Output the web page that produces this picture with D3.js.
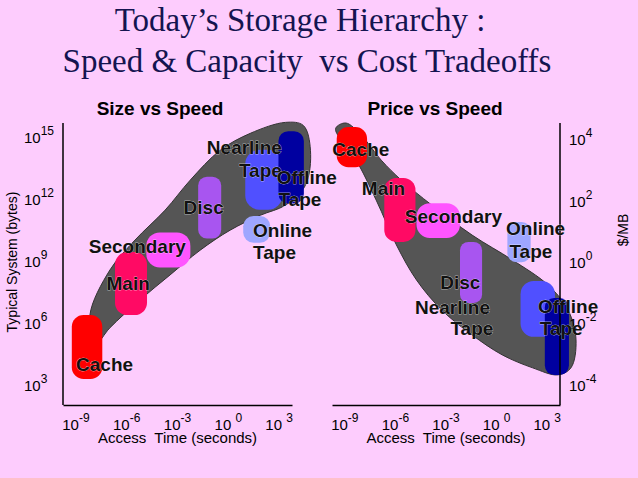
<!DOCTYPE html>
<html><head><meta charset="utf-8">
<script src="https://cdn.jsdelivr.net/npm/d3@7"></script>
<style>body{margin:0;background:#fdccfd}svg{display:block}</style>
</head><body>
<svg id="c" width="638" height="478"></svg>
<script>
// log10 access time ticks, shared by both panels
const timeTicks = [-9, -6, -3, 0, 3]
const sizeTicks = [15, 12, 9, 6, 3]
const priceTicks = [4, 2, 0, -2, -4]

// boxes: [name, t0, t1, v0, v1, colour]  (log10 units)
const sizeBoxes = [
  ["Cache", -9.3, -7.5, 6.3, 3.2, "#ff0000"],
  ["Main", -6.75, -4.86, 9.35, 6.3, "#ff0a64"],
  ["Secondary", -4.9, -2.3, 10.3, 8.6, "#ff55ff"],
  ["Disc", -1.84, -0.48, 13.0, 10.0, "#a855f0"],
  ["Nearline", 0.94, 3.13, 14.3, 11.4, "#5050ff"],
  ["Offline", 2.9, 4.4, 15.2, 11.7, "#0000a0"],
  ["Online", 0.82, 2.42, 11.1, 9.8, "#9ea6ff"]
]
const priceBoxes = [
  ["Cache", -9.54, -7.74, 4.33, 3.02, "#ff0000"],
  ["Main", -6.72, -4.87, 2.67, 0.59, "#ff0a64"],
  ["Secondary", -4.81, -2.23, 1.85, 0.72, "#ff55ff"],
  ["Disc", -2.23, -0.92, 0.59, -1.4, "#a855f0"],
  ["Online", 0.58, 1.96, 1.24, -0.07, "#9ea6ff"],
  ["Nearline", 1.36, 3.4, -0.68, -2.5, "#5050ff"],
  ["Offline", 2.8, 4.23, -1.24, -3.74, "#0000a0"]
]
// grey band outlines [log t, log v]
const sizeBlob = [[-8.23,6.3],[-7.05,8.48],[-5.57,9.93],[-3.79,11.38],[-2.31,12.83],[-0.54,14.28],
  [1.24,15.1],[3.31,15.63],[4.37,15.48],[4.79,14.28],[4.49,12.58],[3.31,11.62],[1.83,11.13],
  [0.05,10.41],[-1.72,9.44],[-3.5,8.24],[-5.27,7.03],[-7.05,5.68],[-7.9,4.9]]
const priceBlob = [[-9,4.46],[-8.1,4.07],[-6.9,3.25],[-5.71,2.6],[-3.91,1.79],[-1.51,0.81],[0.88,0],
  [2.98,-0.81],[4.18,-1.63],[4.65,-2.6],[4.35,-3.51],[3.57,-3.74],[2.08,-3.51],[0.28,-3.09],
  [-1.51,-2.44],[-3.31,-1.63],[-4.81,-0.65],[-6.0,0.49],[-7.2,1.95],[-8.4,3.25],[-9.3,3.9],[-9.6,4.29]]
// labels: [text, t, v, anchor]
const sizeLabels = [
  ["Nearline",3.1,14.1,"end"],["Tape",3.1,13.0,"end"],["Offline",2.8,12.65,"start"],["Tape",2.9,11.6,"start"],
  ["Disc",-2.7,11.2,"start"],["Online",1.4,10.1,"start"],["Tape",1.4,9.03,"start"],
  ["Secondary",-8.3,9.32,"start"],["Main",-7.25,7.5,"start"],["Cache",-9.05,3.6,"start"]]
const priceLabels = [
  ["Cache",-9.8,3.4,"start"],["Main",-8.05,2.1,"start"],["Secondary",-5.5,1.2,"start"],
  ["Online",0.5,0.8,"start"],["Tape",0.7,0.08,"start"],["Disc",-3.4,-0.95,"start"],
  ["Nearline",-4.9,-1.75,"start"],["Tape",-2.8,-2.45,"start"],["Offline",2.4,-1.72,"start"],["Tape",2.5,-2.45,"start"]]

const svg = d3.select("#c")
svg.append("rect").attr("width",638).attr("height",478).attr("fill","#fdccfd")

const title = svg.append("text").attr("text-anchor","middle").attr("xml:space","preserve")
  .attr("font-family","Liberation Serif, Times New Roman, serif").attr("font-size",33).attr("fill","#141450")
title.append("tspan").attr("x",300).attr("y",31).text("Today’s Storage Hierarchy :")
title.append("tspan").attr("x",307).attr("y",72).text("Speed & Capacity\u00a0 vs Cost Tradeoffs")

function tenTo(sel, p) {
  sel.append("tspan").text("10")
  sel.append("tspan").attr("dy",-8).attr("font-size",12).text(p)
}

function panel(cfg) {
  const x = d3.scaleLinear().domain([-9.82, 3.7]).range(cfg.xr)
  const y = d3.scaleLinear().domain(cfg.yd).range([405, 123])
  const g = svg.append("g")
  const font = "Liberation Sans, Arial, sans-serif"
  g.append("text").attr("x",cfg.titleX).attr("y",115).attr("text-anchor","middle")
    .attr("font-family",font).attr("font-weight","bold").attr("font-size",19)
    .text(cfg.title)

  const line = d3.line().x(d=>x(d[0])).y(d=>y(d[1])).curve(d3.curveCatmullRomClosed.alpha(0.5))
  g.append("path").attr("d", line(cfg.blob)).attr("fill","#555555").attr("stroke","#333").attr("stroke-width",1)

  cfg.boxes.forEach(b => {
    const x0 = x(b[1]), x1 = x(b[2]), y0 = y(b[3]), y1 = y(b[4])
    const w = x1 - x0, h = y1 - y0
    g.append("rect").attr("x",x0).attr("y",y0).attr("width",w).attr("height",h)
      .attr("rx",Math.min(w,h)/2.6).attr("fill",b[5])
  })

  // axes
  const axisX = cfg.side === "left" ? cfg.xr[0] : cfg.xr[1]
  g.append("g").attr("transform",`translate(0,405)`)
    .call(d3.axisBottom(x).tickValues([]).tickSizeOuter(0))
    .select(".domain").attr("stroke","#000").attr("stroke-width",1.5)
  g.append("line").attr("x1",axisX).attr("x2",axisX).attr("y1",123).attr("y2",405)
    .attr("stroke","#000").attr("stroke-width",1.5)

  timeTicks.forEach(t => {
    const tx = g.append("text").attr("x",x(t)-1).attr("y",430).attr("text-anchor","middle")
      .attr("font-family",font).attr("font-size",15).attr("xml:space","preserve")
    tx.append("tspan").text(t >= 0 ? "10 " : "10")
    tx.append("tspan").attr("dy",-8).attr("font-size",12).text(t)
  })
  g.append("text").attr("x",(cfg.xr[0]+cfg.xr[1])/2 + cfg.xtOff).attr("y",443).attr("text-anchor","middle")
    .attr("font-family",font).attr("font-size",15).attr("xml:space","preserve").text("Access  Time (seconds)")

  cfg.yticks.forEach(v => {
    const tx = g.append("text").attr("y",y(v)+8).attr("font-family",font).attr("font-size",15)
      .attr("x", cfg.side === "left" ? 24 : 569)
    tenTo(tx, v)
  })
  g.append("text").attr("transform",`translate(${cfg.ytX},${cfg.ytY}) rotate(-90)`).attr("text-anchor","middle")
    .attr("font-family",font).attr("font-size",14).text(cfg.ytitle)

  cfg.labels.forEach(l => {
    g.append("text").attr("x",x(l[1])).attr("y",y(l[2])).attr("text-anchor",l[3])
      .attr("font-family",font).attr("font-weight","bold").attr("font-size",19)
      .attr("fill","#111").attr("stroke","#fff").attr("stroke-width",0.4).attr("paint-order","stroke")
      .text(l[0])
  })
}

panel({side:"left", xr:[63,292], yd:[1.94,15.6], boxes:sizeBoxes, blob:sizeBlob, labels:sizeLabels,
  yticks:sizeTicks, title:"Size vs Speed", titleX:160, xtOff:0, ytitle:"Typical System (bytes)", ytX:17, ytY:262})
panel({side:"right", xr:[332,560], yd:[-4.72,4.46], boxes:priceBoxes, blob:priceBlob, labels:priceLabels,
  yticks:priceTicks, title:"Price vs Speed", titleX:435, xtOff:0, ytitle:"$/MB", ytX:628, ytY:230})
</script>
</body></html>
